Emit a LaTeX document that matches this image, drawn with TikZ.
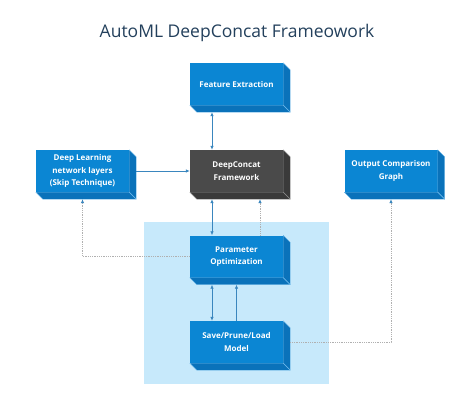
\documentclass[tikz,border=0pt]{standalone}
\usepackage{fontspec}
\setmainfont{Open Sans}
\usetikzlibrary{arrows.meta}
\definecolor{boxblue}{HTML}{0B86D3}
\definecolor{sideblue}{HTML}{0A72BA}
\definecolor{edgeblue}{HTML}{6DB9EB}
\definecolor{boxgray}{HTML}{4A4A4A}
\definecolor{sidegray}{HTML}{3A3A3A}
\definecolor{edgegray}{HTML}{8C8C8C}
\definecolor{zonecol}{HTML}{C7E9FB}
\definecolor{linkcol}{HTML}{3A86BE}
\definecolor{dotcol}{HTML}{B0B0B0}
\definecolor{titlecol}{HTML}{23405C}
\tikzset{
  blockbox/.style={fill=boxblue, minimum width=93pt, minimum height=42pt, inner sep=0pt, align=center, text=white, font=\fontsize{8}{12.5}\selectfont\bfseries},
  darkbox/.style={blockbox, fill=boxgray},
  link/.style={draw=linkcol, line width=0.7pt, -{Latex[length=4pt,width=3.5pt]}},
  duallink/.style={link, {Latex[length=4pt,width=3.5pt]}-{Latex[length=4pt,width=3.5pt]}},
  dotlink/.style={draw=dotcol, line width=0.7pt, dash pattern=on 0.8pt off 1pt, -{Latex[length=4pt,width=3.5pt,color=linkcol]}}
}
\begin{document}
\begin{tikzpicture}[x=1pt,y=-1pt]
        \useasboundingbox (0,0) rectangle (474,408);
        \fill[zonecol] (144,222) rectangle (329,384);
        \node[text=titlecol, font=\fontsize{17.5}{21}\selectfont] (title) at (237,32.5) {AutoML DeepConcat Frameowork};
        \node[blockbox] (fe) at (236.5,84) {Feature Extraction};
        \node[darkbox] (dc) at (236.5,171) {DeepConcat\\Framework};
        \node[blockbox] (dl) at (82.5,171) {Deep Learning\\network layers\\(Skip Technique)};
        \node[blockbox] (og) at (391,171) {Output Comparison\\Graph};
        \node[blockbox] (po) at (236.5,256.5) {Parameter\\Optimization};
        \node[blockbox] (spl) at (236.5,342) {Save/Prune/Load\\Model};
        \foreach \n/\f/\e in {fe/sideblue/edgeblue, dc/sidegray/edgegray, dl/sideblue/edgeblue, og/sideblue/edgeblue, po/sideblue/edgeblue, spl/sideblue/edgeblue} {
            \filldraw[fill=\f, draw=\e, line width=0.4pt, line join=round] (\n.north east) -- ([shift={(7pt,-7pt)}]\n.north east) -- ([shift={(7pt,-7pt)}]\n.south east) -- (\n.south east) -- cycle;
            \filldraw[fill=\f, draw=\e, line width=0.4pt, line join=round] (\n.south west) -- (\n.south east) -- ([shift={(7pt,-7pt)}]\n.south east) -- ([shift={(7pt,-7pt)}]\n.south west) -- cycle;
        }
        \draw[duallink] ([xshift=-24.5pt,yshift=-7pt]fe.south) -- ([xshift=-24.5pt]dc.north);
        \draw[link] ([xshift=7pt]dl.east) -- (dc.west);
        \draw[duallink] ([xshift=-24.5pt,yshift=-7pt]dc.south) -- ([xshift=-24.5pt]po.north);
        \draw[dotlink] ([xshift=23.5pt]po.north) -- ([xshift=23.5pt,yshift=-7pt]dc.south);
        \draw[dotlink] (po.west) -| ([yshift=-7pt]dl.south);
        \draw[duallink] ([xshift=-24.5pt,yshift=-7pt]po.south) -- ([xshift=-24.5pt]spl.north);
        \draw[link] (spl.north) -- ([yshift=-7pt]po.south);
        \draw[dotlink] ([xshift=7pt]spl.east) -| ([yshift=-7pt]og.south);
    \end{tikzpicture}
\end{document}
